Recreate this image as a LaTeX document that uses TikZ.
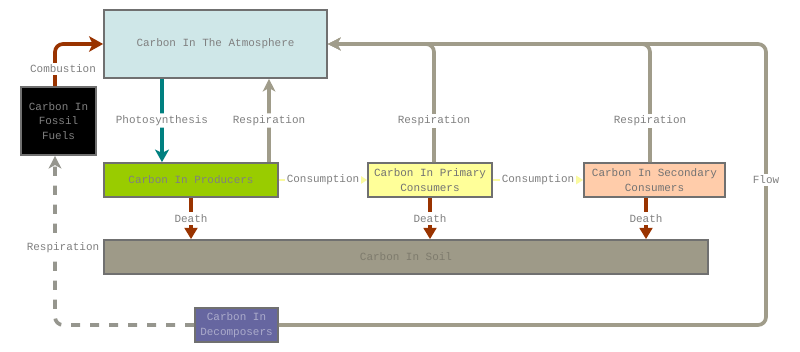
\documentclass[tikz,border=0pt]{standalone}
\usepackage{fontspec}
\setmonofont{Liberation Mono}
\usetikzlibrary{arrows.meta}
\definecolor{boxgray}{RGB}{112,112,112}
\definecolor{labelgray}{RGB}{128,128,128}
\definecolor{atmofill}{RGB}{207,231,232}
\definecolor{prodfill}{RGB}{153,204,0}
\definecolor{primfill}{RGB}{255,255,153}
\definecolor{secfill}{RGB}{255,204,170}
\definecolor{soilfill}{RGB}{158,154,136}
\definecolor{decofill}{RGB}{102,102,160}
\definecolor{flowgray}{RGB}{160,156,138}
\definecolor{dashgray}{RGB}{150,150,142}
\definecolor{deathbrown}{RGB}{153,51,0}
\definecolor{phototeal}{RGB}{0,128,128}
\definecolor{consyellow}{RGB}{250,250,160}

\begin{document}
\begin{tikzpicture}[x=0.025cm,y=-0.025cm,box/.style={draw=boxgray,line width=1.2pt,align=center,inner sep=1pt,font=\ttfamily\fontsize{7.8}{10.3}\selectfont,text=labelgray},lbl/.style={fill=white,inner sep=1.5pt,font=\ttfamily\fontsize{7.8}{10.3}\selectfont,text=labelgray},arr/.style={-{Stealth[length=9pt,width=9pt,inset=2.5pt]},line width=2.6pt,rounded corners=0.2cm},resp/.style={arr,draw=flowgray},death/.style={-{Triangle[length=8pt,width=9pt]},line width=2.8pt,draw=deathbrown},cons/.style={-{Triangle[length=5pt,width=6pt]},line width=2pt,draw=consyellow}]
\useasboundingbox (0,0) rectangle (800,352);
\node[box,fill=atmofill,minimum width=5.575cm,minimum height=1.7cm] (atmosphere) at (215.5,44) {Carbon In The Atmosphere};
\node[box,fill=black,text=labelgray,minimum width=1.875cm,minimum height=1.7cm] (fossil) at (58.5,121) {Carbon In\\Fossil\\Fuels};
\node[box,fill=prodfill,minimum width=4.35cm,minimum height=0.85cm] (producers) at (191,180) {Carbon In Producers};
\node[box,fill=primfill,text=gray!90!black,minimum width=3.1cm,minimum height=0.85cm] (primary) at (430,180) {Carbon In Primary\\Consumers};
\node[box,fill=secfill,text=gray!90!black,minimum width=3.525cm,minimum height=0.85cm] (secondary) at (654.5,180) {Carbon In Secondary\\Consumers};
\node[box,fill=soilfill,text=soilfill!80!black,minimum width=15.1cm,minimum height=0.85cm] (soil) at (406,257) {Carbon In Soil};
\node[box,fill=decofill,text=decofill!55!white,minimum width=2.075cm,minimum height=0.85cm] (decomposers) at (236.5,325) {Carbon In\\Decomposers};
\coordinate (photo) at ([xshift=-1.3375cm]atmosphere.south);
\coordinate (prodresp) at ([xshift=1.95cm]producers.north);
\coordinate (fossilx) at ([xshift=-0.0875cm]fossil.north);
\coordinate (flowturn) at (766,180);
\coordinate (secdeath) at ([xshift=-0.2125cm]secondary.south);
\draw[arr,-{Stealth[length=10pt,width=11pt,inset=2.5pt]},draw=deathbrown] (fossilx) |- (atmosphere.west);
\draw[arr,-{Stealth[length=9pt,width=10pt,inset=2.5pt]},draw=phototeal] (photo) -- (photo |- producers.north) node[lbl,midway]{Photosynthesis};
\draw[resp] (prodresp) -- (prodresp |- atmosphere.south) node[lbl,midway]{Respiration};
\draw[resp] ([xshift=0.1cm]primary.north) |- (atmosphere.east);
\draw[resp] ([xshift=-0.1125cm]secondary.north) |- (atmosphere.east);
\draw[resp] (decomposers.east) -| (flowturn) |- (atmosphere.east);
\draw[arr,draw=dashgray,dash pattern=on 6.5pt off 7pt] (decomposers.west) -| (fossilx |- fossil.south);
\draw[cons] (producers.east) -- (primary.west) node[lbl,midway]{Consumption};\draw[cons] (primary.east) -- (secondary.west) node[lbl,midway]{Consumption};
\draw[death] (producers.south) -- (producers.south |- soil.north) node[lbl,midway]{Death};\draw[death] (primary.south) -- (primary.south |- soil.north) node[lbl,midway]{Death};\draw[death] (secdeath) -- (secdeath |- soil.north) node[lbl,midway]{Death};
\node[lbl] at (63,69) {Combustion};
\node[lbl] at (434,121) {Respiration};
\node[lbl] at (650,121) {Respiration};
\node[lbl] at (flowturn) {Flow};
\node[lbl] at (63,248) {Respiration};
\end{tikzpicture}
\end{document}
